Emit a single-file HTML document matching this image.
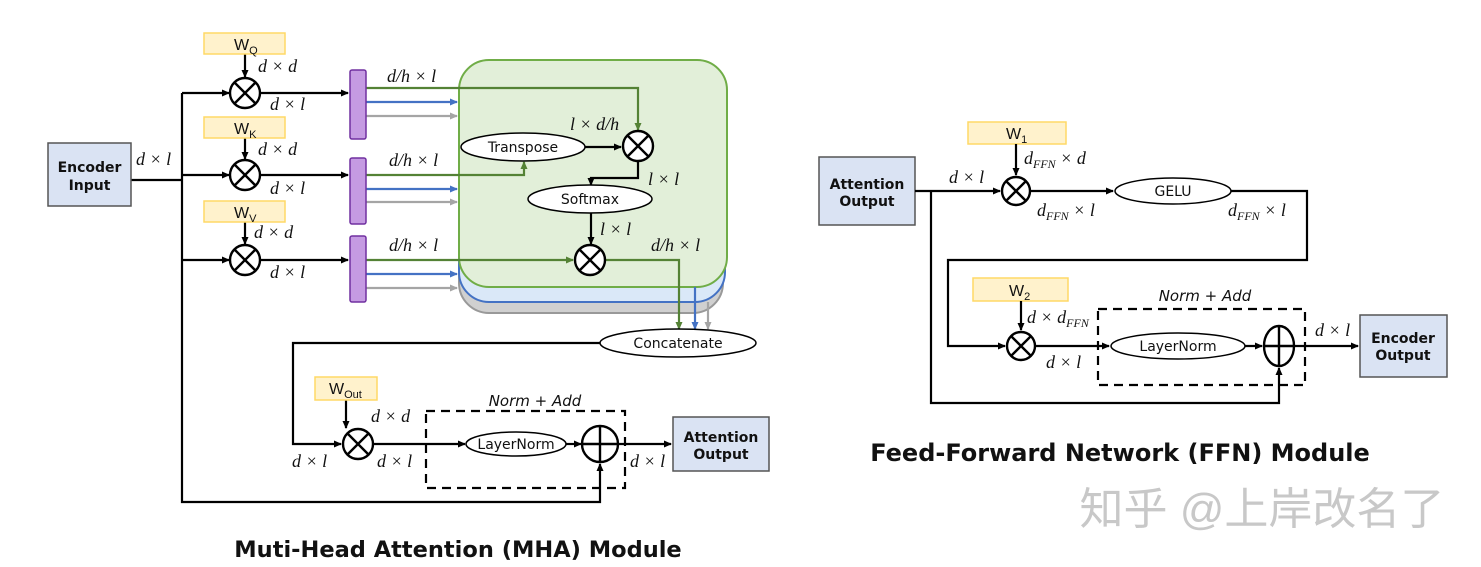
<!DOCTYPE html>
<html><head><meta charset="utf-8"><style>
html,body{margin:0;padding:0;background:#fff;}
svg{display:block;}
.m{font-family:"Liberation Serif",serif;font-style:italic;font-size:18px;fill:#111;}
.s{font-family:"DejaVu Sans","Liberation Sans",sans-serif;font-size:14px;fill:#111;}
.b{font-family:"DejaVu Sans","Liberation Sans",sans-serif;font-size:14px;font-weight:bold;fill:#111;}
.w{font-family:"Liberation Sans",sans-serif;font-size:16px;fill:#111;}
.t{font-family:"DejaVu Sans","Liberation Sans",sans-serif;font-weight:bold;fill:#111;}
.ni{font-family:"DejaVu Sans","Liberation Sans",sans-serif;font-style:italic;font-size:15px;fill:#111;}
</style></head><body>
<svg width="1481" height="567" viewBox="0 0 1481 567" xmlns="http://www.w3.org/2000/svg">
<defs>
<marker id="ak" markerWidth="8" markerHeight="8" refX="7" refY="4" orient="auto" markerUnits="userSpaceOnUse"><path d="M0,0.5 L8,4 L0,7.5z" fill="#000"/></marker>
<marker id="ag" markerWidth="8" markerHeight="8" refX="7" refY="4" orient="auto" markerUnits="userSpaceOnUse"><path d="M0,0.5 L8,4 L0,7.5z" fill="#548235"/></marker>
<marker id="ab" markerWidth="8" markerHeight="8" refX="7" refY="4" orient="auto" markerUnits="userSpaceOnUse"><path d="M0,0.5 L8,4 L0,7.5z" fill="#4472c4"/></marker>
<marker id="ay" markerWidth="8" markerHeight="8" refX="7" refY="4" orient="auto" markerUnits="userSpaceOnUse"><path d="M0,0.5 L8,4 L0,7.5z" fill="#a5a5a5"/></marker>
</defs>

<rect x="459" y="84" width="264" height="229" rx="30" fill="#d0d0d0" stroke="#999" stroke-width="2"/>
<rect x="459" y="72" width="266" height="230" rx="30" fill="#dae8f8" stroke="#4472c4" stroke-width="2"/>
<rect x="459" y="60" width="268" height="227" rx="30" fill="#e2efd9" stroke="#70ad47" stroke-width="2"/>

<g stroke="#000" stroke-width="2.2" fill="none">
<line x1="131" y1="180" x2="182" y2="180"/>
<polyline points="182,93 182,502 600,502 600,464" marker-end="url(#ak)"/>
<line x1="182" y1="93" x2="229" y2="93" marker-end="url(#ak)"/>
<line x1="182" y1="175" x2="229" y2="175" marker-end="url(#ak)"/>
<line x1="182" y1="260" x2="229" y2="260" marker-end="url(#ak)"/>
<line x1="245" y1="54" x2="245" y2="77" marker-end="url(#ak)"/>
<line x1="245" y1="138" x2="245" y2="159" marker-end="url(#ak)"/>
<line x1="245" y1="222" x2="245" y2="244" marker-end="url(#ak)"/>
<line x1="260" y1="93" x2="348" y2="93" marker-end="url(#ak)"/>
<line x1="260" y1="175" x2="348" y2="175" marker-end="url(#ak)"/>
<line x1="260" y1="260" x2="348" y2="260" marker-end="url(#ak)"/>
</g>

<g stroke-width="2.2" fill="none">
<polyline points="366,88 638,88 638,130" stroke="#548235" marker-end="url(#ag)"/>
<line x1="366" y1="102" x2="457" y2="102" stroke="#4472c4" marker-end="url(#ab)"/>
<line x1="366" y1="116" x2="457" y2="116" stroke="#a5a5a5" marker-end="url(#ay)"/>
<polyline points="366,175 524,175 524,162" stroke="#548235" marker-end="url(#ag)"/>
<line x1="366" y1="189" x2="457" y2="189" stroke="#4472c4" marker-end="url(#ab)"/>
<line x1="366" y1="202" x2="457" y2="202" stroke="#a5a5a5" marker-end="url(#ay)"/>
<line x1="366" y1="260" x2="573" y2="260" stroke="#548235" marker-end="url(#ag)"/>
<line x1="366" y1="274" x2="457" y2="274" stroke="#4472c4" marker-end="url(#ab)"/>
<line x1="366" y1="288" x2="457" y2="288" stroke="#a5a5a5" marker-end="url(#ay)"/>
<polyline points="605,260 679,260 679,329" stroke="#548235" marker-end="url(#ag)"/>
<line x1="695" y1="287" x2="695" y2="329" stroke="#4472c4" marker-end="url(#ab)"/>
<line x1="708" y1="302" x2="708" y2="329" stroke="#a5a5a5" marker-end="url(#ay)"/>
</g>

<g stroke="#000" stroke-width="2.2" fill="none">
<line x1="585" y1="147" x2="621" y2="147" marker-end="url(#ak)"/>
<polyline points="638,161 638,178 591,178 591,185" marker-end="url(#ak)"/>
<line x1="591" y1="213" x2="591" y2="244" marker-end="url(#ak)"/>
<polyline points="600,343 293,343 293,444 341,444" marker-end="url(#ak)"/>
<line x1="346" y1="400" x2="346" y2="428" marker-end="url(#ak)"/>
<line x1="373" y1="444" x2="465" y2="444" marker-end="url(#ak)"/>
<line x1="566" y1="444" x2="581" y2="444" marker-end="url(#ak)"/>
<line x1="619" y1="444" x2="671" y2="444" marker-end="url(#ak)"/>
<rect x="426" y="411" width="199" height="77" stroke-dasharray="9,6"/>
</g>

<g fill="#c59be2" stroke="#7030a0" stroke-width="1.5">
<rect x="350" y="70" width="16" height="69" rx="2"/>
<rect x="350" y="158" width="16" height="66" rx="2"/>
<rect x="350" y="236" width="16" height="66" rx="2"/>
</g>

<rect x="48" y="143" width="83" height="63" fill="#dae3f3" stroke="#555" stroke-width="1.5"/>
<text class="b" x="89.5" y="172" text-anchor="middle">Encoder</text>
<text class="b" x="89.5" y="190" text-anchor="middle">Input</text>
<rect x="673" y="417" width="96" height="54" fill="#dae3f3" stroke="#555" stroke-width="1.5"/>
<text class="b" x="721" y="442" text-anchor="middle">Attention</text>
<text class="b" x="721" y="459" text-anchor="middle">Output</text>

<g fill="#fff2cc" stroke="#ffd966" stroke-width="1.5">
<rect x="204" y="33" width="81" height="21"/>
<rect x="204" y="117" width="81" height="21"/>
<rect x="204" y="201" width="81" height="21"/>
<rect x="315" y="377" width="62" height="23"/>
<rect x="968" y="122" width="98" height="22"/>
<rect x="973" y="278" width="95" height="23"/>
</g>
<text class="w" x="234" y="50">W<tspan font-size="11" dy="4">Q</tspan></text>
<text class="w" x="234" y="134">W<tspan font-size="11" dy="4">K</tspan></text>
<text class="w" x="234" y="218">W<tspan font-size="11" dy="4">V</tspan></text>
<text class="w" x="329" y="394">W<tspan font-size="11" dy="4">Out</tspan></text>
<text class="w" x="1006" y="139">W<tspan font-size="11" dy="4">1</tspan></text>
<text class="w" x="1009" y="296">W<tspan font-size="11" dy="4">2</tspan></text>

<g fill="#fff" stroke="#000" stroke-width="1.5">
<ellipse cx="523" cy="147" rx="62" ry="14"/>
<ellipse cx="590" cy="199" rx="62" ry="14"/>
<ellipse cx="678" cy="343" rx="78" ry="14"/>
<ellipse cx="516" cy="444" rx="50" ry="12"/>
<ellipse cx="1173" cy="191" rx="58" ry="13"/>
<ellipse cx="1178" cy="346" rx="67" ry="13"/>
</g>
<text class="s" x="523" y="152" text-anchor="middle">Transpose</text>
<text class="s" x="590" y="204" text-anchor="middle">Softmax</text>
<text class="s" x="678" y="348" text-anchor="middle">Concatenate</text>
<text class="s" x="516" y="449" text-anchor="middle">LayerNorm</text>
<text class="s" x="1173" y="196" text-anchor="middle">GELU</text>
<text class="s" x="1178" y="351" text-anchor="middle">LayerNorm</text>

<g fill="#fff" stroke="#000" stroke-width="2.4">
<g transform="translate(245,93)"><circle r="15"/><path d="M-10.6,-10.6L10.6,10.6M10.6,-10.6L-10.6,10.6"/></g>
<g transform="translate(245,175)"><circle r="15"/><path d="M-10.6,-10.6L10.6,10.6M10.6,-10.6L-10.6,10.6"/></g>
<g transform="translate(245,260)"><circle r="15"/><path d="M-10.6,-10.6L10.6,10.6M10.6,-10.6L-10.6,10.6"/></g>
<g transform="translate(638,146)"><circle r="15"/><path d="M-10.6,-10.6L10.6,10.6M10.6,-10.6L-10.6,10.6"/></g>
<g transform="translate(590,260)"><circle r="15"/><path d="M-10.6,-10.6L10.6,10.6M10.6,-10.6L-10.6,10.6"/></g>
<g transform="translate(358,444)"><circle r="15"/><path d="M-10.6,-10.6L10.6,10.6M10.6,-10.6L-10.6,10.6"/></g>
<g transform="translate(1016,191)"><circle r="14"/><path d="M-9.9,-9.9L9.9,9.9M9.9,-9.9L-9.9,9.9"/></g>
<g transform="translate(1021,346)"><circle r="14"/><path d="M-9.9,-9.9L9.9,9.9M9.9,-9.9L-9.9,9.9"/></g>
<g transform="translate(600,444)"><circle r="18"/><path d="M-18,0L18,0M0,-18L0,18"/></g>
<g transform="translate(1279,346)"><ellipse rx="15" ry="20"/><path d="M-15,0L15,0M0,-20L0,20"/></g>
</g>

<text class="m" x="136" y="165">d × l</text>
<text class="m" x="258" y="72">d × d</text>
<text class="m" x="270" y="110">d × l</text>
<text class="m" x="258" y="155">d × d</text>
<text class="m" x="270" y="194">d × l</text>
<text class="m" x="254" y="238">d × d</text>
<text class="m" x="270" y="278">d × l</text>
<text class="m" x="387" y="82">d/h × l</text>
<text class="m" x="389" y="166">d/h × l</text>
<text class="m" x="389" y="251">d/h × l</text>
<text class="m" x="570" y="130">l × d/h</text>
<text class="m" x="648" y="185">l × l</text>
<text class="m" x="600" y="235">l × l</text>
<text class="m" x="651" y="251">d/h × l</text>
<text class="m" x="371" y="422">d × d</text>
<text class="m" x="292" y="467">d × l</text>
<text class="m" x="377" y="467">d × l</text>
<text class="m" x="630" y="467">d × l</text>
<text class="ni" x="535" y="406" text-anchor="middle">Norm + Add</text>
<text class="t" x="458" y="557" text-anchor="middle" font-size="22.5">Muti-Head Attention (MHA) Module</text>

<rect x="819" y="157" width="96" height="68" fill="#dae3f3" stroke="#555" stroke-width="1.5"/>
<text class="b" x="867" y="189" text-anchor="middle">Attention</text>
<text class="b" x="867" y="206" text-anchor="middle">Output</text>
<rect x="1360" y="315" width="87" height="62" fill="#dae3f3" stroke="#555" stroke-width="1.5"/>
<text class="b" x="1403" y="343" text-anchor="middle">Encoder</text>
<text class="b" x="1403" y="360" text-anchor="middle">Output</text>

<g stroke="#000" stroke-width="2.2" fill="none">
<line x1="915" y1="191" x2="1000" y2="191" marker-end="url(#ak)"/>
<polyline points="931,191 931,403 1279,403 1279,368" marker-end="url(#ak)"/>
<line x1="1016" y1="144" x2="1016" y2="175" marker-end="url(#ak)"/>
<line x1="1030" y1="191" x2="1113" y2="191" marker-end="url(#ak)"/>
<polyline points="1231,191 1307,191 1307,260 948,260 948,346 1005,346" marker-end="url(#ak)"/>
<line x1="1021" y1="301" x2="1021" y2="330" marker-end="url(#ak)"/>
<line x1="1035" y1="346" x2="1109" y2="346" marker-end="url(#ak)"/>
<line x1="1245" y1="346" x2="1262" y2="346" marker-end="url(#ak)"/>
<line x1="1294" y1="346" x2="1358" y2="346" marker-end="url(#ak)"/>
<rect x="1098" y="309" width="207" height="76" stroke-dasharray="9,6"/>
</g>
<text class="m" x="949" y="183">d × l</text>
<text class="m" x="1024" y="164">d<tspan font-size="12" dy="4">FFN</tspan><tspan dy="-4"> × d</tspan></text>
<text class="m" x="1037" y="216">d<tspan font-size="12" dy="4">FFN</tspan><tspan dy="-4"> × l</tspan></text>
<text class="m" x="1228" y="216">d<tspan font-size="12" dy="4">FFN</tspan><tspan dy="-4"> × l</tspan></text>
<text class="m" x="1027" y="323">d × d<tspan font-size="12" dy="4">FFN</tspan></text>
<text class="m" x="1046" y="368">d × l</text>
<text class="m" x="1315" y="336">d × l</text>
<text class="ni" x="1205" y="301" text-anchor="middle">Norm + Add</text>
<text class="t" x="1120" y="461" text-anchor="middle" font-size="24">Feed-Forward Network (FFN) Module</text>

<text x="1262" y="524" text-anchor="middle" font-family="'Liberation Sans','Noto Sans CJK SC',sans-serif" font-size="44" fill="#c8c8c8">知乎 @上岸改名了</text>
</svg>
</body></html>
